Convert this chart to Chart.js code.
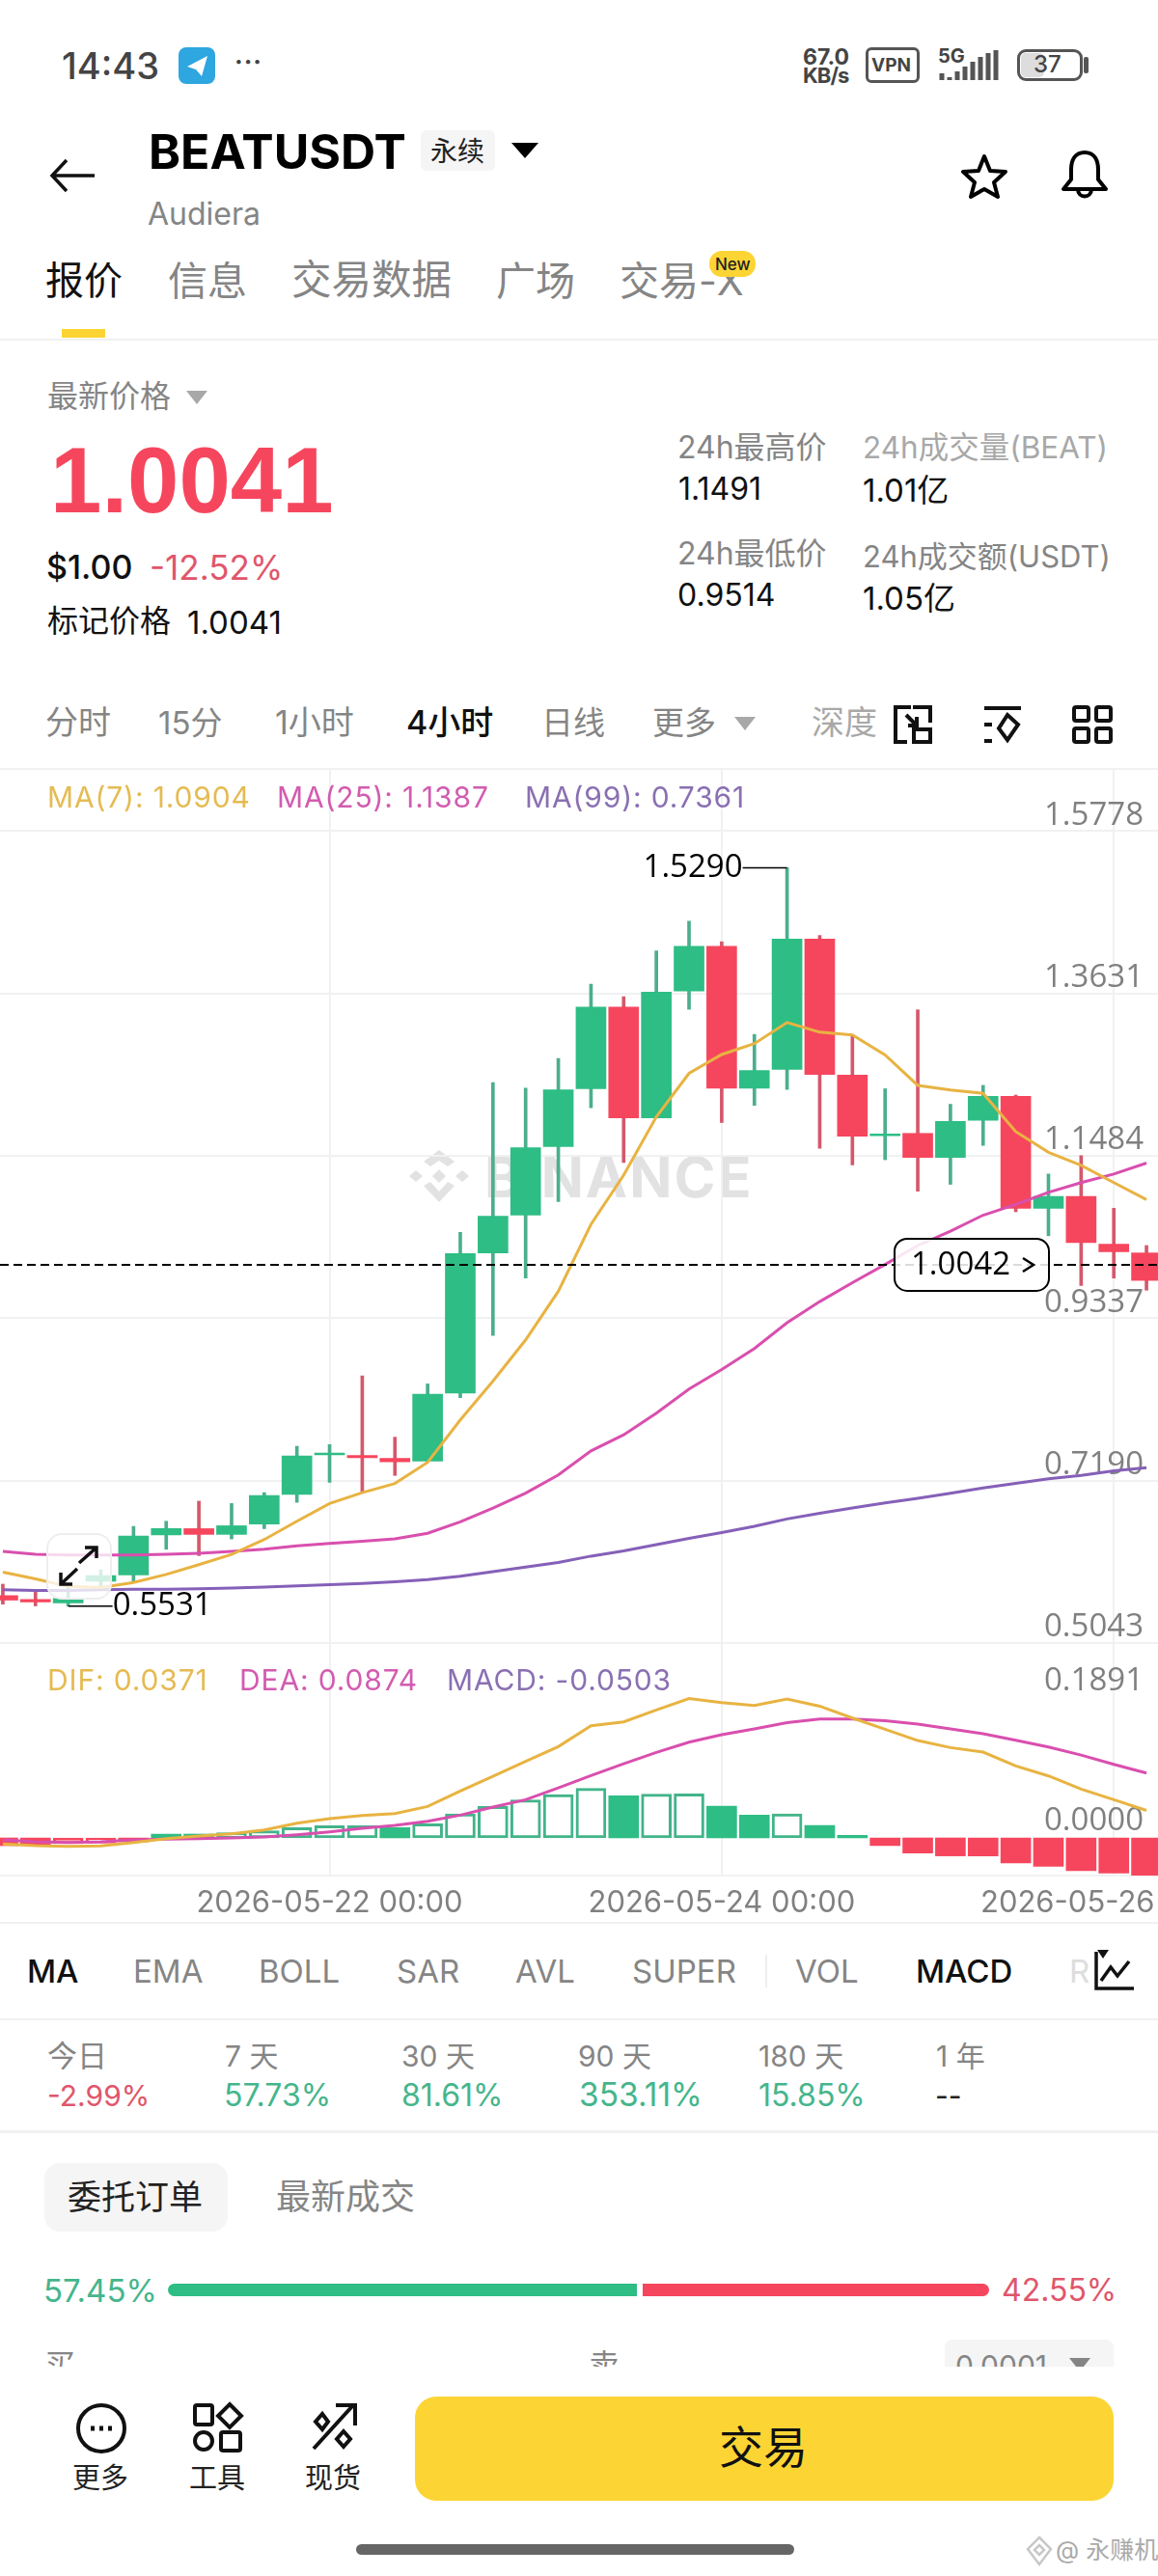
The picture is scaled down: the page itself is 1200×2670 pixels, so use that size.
<!DOCTYPE html>
<html lang="zh">
<head>
<meta charset="utf-8">
<title>BEATUSDT</title>
<script src="https://cdn.jsdelivr.net/npm/chart.js@4/dist/chart.umd.min.js"></script>
<style>
html, body { margin: 0; padding: 0; background: #fff; }
body { font-family: Inter, "Noto Sans CJK SC", sans-serif; }
#page { position: relative; width: 1200px; height: 2670px; overflow: hidden; background: #fff; }
.t { position: absolute; white-space: nowrap; line-height: 1; transform: translateY(-50%); }
.b { position: absolute; }
.sep { position: absolute; left: 0; width: 1200px; height: 2px; background: #f0f1f2; }
.grey { color: #858585; }
.lgrey { color: #a8a8a8; }
.up { color: #45b58c; }
.down { color: #e0566b; }
.lg { font-size: 30px; letter-spacing: .85px; }
canvas { position: absolute; }
svg { position: absolute; overflow: visible; }
</style>
</head>
<body>
<div id="page">

<!-- status bar -->
<div class="t" style="left:64px;top:68px;font-size:38px;font-weight:500;color:#444">14:43</div>
<div class="b" style="left:185px;top:49px;width:38px;height:38px;background:#2ea6e0;border-radius:8px"></div>
<svg style="left:185px;top:49px" width="38" height="38"><path d="M9 20 L30 9 L24 30 L18 23 Z" fill="#fff"/></svg>
<div class="t" style="left:243px;top:64px;font-size:26px;font-weight:700;letter-spacing:1px;color:#444">···</div>
<div class="t" style="left:832px;top:59px;font-size:23px;font-weight:700;color:#444">67.0</div>
<div class="t" style="left:832px;top:78px;font-size:22px;font-weight:700;color:#444;letter-spacing:-1px">KB/s</div>
<div class="b" style="left:897px;top:49px;width:50px;height:31px;border:3px solid #555;border-radius:6px"></div>
<div class="t" style="left:903px;top:67px;font-size:19px;font-weight:700;color:#444">VPN</div>
<div class="t" style="left:972px;top:58px;font-size:20px;font-weight:700;color:#444">5G</div>
<svg style="left:970px;top:50px" width="70" height="36" stroke="#555" stroke-width="5">
  <path d="M6 26V33M14 30V33M22 24V33M30 19V33M38 14V33M46 9V33M54 5V33M62 2V33"/>
</svg>
<div class="b" style="left:1054px;top:51px;width:62px;height:27px;border:3px solid #555;border-radius:9px"></div>
<div class="b" style="left:1058px;top:55px;width:24px;height:25px;background:#ddd;border-radius:5px"></div>
<div class="t" style="left:1071px;top:67px;font-size:24px;font-weight:500;color:#444">37</div>
<div class="b" style="left:1123px;top:59px;width:5px;height:17px;background:#555;border-radius:2px"></div>

<!-- header -->
<svg style="left:52px;top:165px" width="46" height="34" fill="none" stroke="#111" stroke-width="3.5"><path d="M46 17H2M17 1L2 17L17 33"/></svg>
<div class="t" style="left:154px;top:157px;font-size:50px;font-weight:700;color:#000">BEATUSDT</div>
<div class="b" style="left:436px;top:135px;width:77px;height:42px;background:#f5f5f5;border-radius:6px"></div>
<div class="t" style="left:446px;top:157px;font-size:28px;color:#222">永续</div>
<svg style="left:530px;top:148px" width="28" height="16"><path d="M0 0H28L14 16Z" fill="#000"/></svg>
<div class="t grey" style="left:153px;top:222px;font-size:32px">Audiera</div>
<svg style="left:995px;top:159px" width="50" height="48" fill="none" stroke="#000" stroke-width="4" stroke-linejoin="round"><path d="M25 3L31 18L47 19L35 30L39 45L25 37L11 45L15 30L3 19L19 18Z"/></svg>
<svg style="left:1100px;top:156px" width="48" height="52" fill="none" stroke="#000" stroke-width="4" stroke-linejoin="round"><path d="M24 2C14 2 10 10 10 20V30L2 40H46L38 30V20C38 10 34 2 24 2ZM17 40C17 50 31 50 31 40"/></svg>

<!-- tabs -->
<div class="t" style="left:47px;top:291px;font-size:40px;color:#111">报价</div>
<div class="t grey" style="left:174px;top:291px;font-size:41px">信息</div>
<div class="t grey" style="left:302px;top:291px;font-size:41.5px">交易数据</div>
<div class="t grey" style="left:514px;top:291px;font-size:41px">广场</div>
<div class="t grey" style="left:642px;top:291px;font-size:41px">交易-X</div>
<div class="b" style="left:735px;top:260px;width:48px;height:27px;background:#fcd535;border-radius:13px"></div>
<div class="t" style="left:741px;top:274px;font-size:17px;font-weight:500;color:#222">New</div>
<div class="b" style="left:64px;top:341px;width:45px;height:9px;background:#fcd535"></div>
<div class="sep" style="top:351px"></div>

<!-- price block -->
<div class="t grey" style="left:49px;top:411px;font-size:32px">最新价格</div>
<svg style="left:193px;top:405px" width="22" height="14"><path d="M0 0H22L11 14Z" fill="#a8a8a8"/></svg>
<div class="t" style="left:52px;top:498px;font-size:96px;font-weight:700;color:#f6465d;font-family:'Liberation Sans',sans-serif">1.0041</div>
<div class="t" style="left:48px;top:588px;font-size:34px;font-weight:500;color:#111">$1.00</div>
<div class="t down" style="left:155px;top:588px;font-size:35px">-12.52%</div>
<div class="t" style="left:49px;top:644px;font-size:32px;color:#111">标记价格</div>
<div class="t" style="left:194px;top:645px;font-size:33px;color:#111">1.0041</div>

<div class="t grey" style="left:702px;top:464px;font-size:32px">24h最高价</div>
<div class="t lgrey" style="left:894px;top:464px;font-size:31.5px">24h成交量(BEAT)</div>
<div class="t" style="left:703px;top:507px;font-size:32px;color:#111">1.1491</div>
<div class="t" style="left:894px;top:508px;font-size:33px;color:#111">1.01亿</div>
<div class="t grey" style="left:702px;top:574px;font-size:32px">24h最低价</div>
<div class="t grey" style="left:894px;top:576px;font-size:31px">24h成交额(USDT)</div>
<div class="t" style="left:702px;top:617px;font-size:32px;color:#111">0.9514</div>
<div class="t" style="left:894px;top:620px;font-size:33px;color:#111">1.05亿</div>

<!-- timeframe row -->
<div class="t grey" style="left:47px;top:749px;font-size:34px">分时</div>
<div class="t grey" style="left:164px;top:749px;font-size:33px">15分</div>
<div class="t grey" style="left:285px;top:749px;font-size:34px">1小时</div>
<div class="t" style="left:421px;top:749px;font-size:34px;font-weight:500;color:#111">4小时</div>
<div class="t grey" style="left:561px;top:749px;font-size:33px">日线</div>
<div class="t grey" style="left:676px;top:749px;font-size:33px">更多</div>
<svg style="left:761px;top:743px" width="22" height="14"><path d="M0 0H22L11 14Z" fill="#a8a8a8"/></svg>
<div class="t lgrey" style="left:841px;top:749px;font-size:34px">深度</div>
<svg style="left:926px;top:731px" width="40" height="40" fill="none" stroke="#111" stroke-width="4"><path d="M18 2H2V38H14M20 2H38V18M13 10L24 21M24 12V21H15"/><rect x="21" y="25" width="17" height="13"/></svg>
<svg style="left:1018px;top:731px" width="42" height="40" fill="none" stroke="#111" stroke-width="4"><path d="M2 3H40M2 20H10M2 37H10"/><path d="M26 10L37 20L26 36L17 24Z"/></svg>
<svg style="left:1111px;top:731px" width="42" height="40" fill="none" stroke="#111" stroke-width="4"><rect x="2" y="2" width="15" height="14" rx="2"/><rect x="25" y="2" width="15" height="14" rx="2"/><rect x="2" y="24" width="15" height="14" rx="2"/><rect x="25" y="24" width="15" height="14" rx="2"/></svg>
<div class="sep" style="top:796px"></div>

<!-- watermark sits under the transparent canvases -->
<svg style="left:421px;top:1192px" width="68" height="60" fill="#e2e2e2"><path d="M34 0L50 12L43 17L34 11L25 17L18 12ZM10 21L17 27L10 33L3 27ZM58 21L65 27L58 33L51 27ZM34 20L41 27L34 34L27 27ZM18 37L25 33L34 43L43 33L50 37L34 54Z"/></svg>
<div class="t" style="left:502px;top:1220px;font-size:58px;font-weight:700;color:#e2e2e2;letter-spacing:2px">BINANCE</div>

<canvas id="priceChart"></canvas>
<canvas id="macdChart"></canvas>

<!-- chart legends -->
<div class="t lg" style="left:49px;top:826px;color:#e5bb52">MA(7): 1.0904</div>
<div class="t lg" style="left:287px;top:826px;color:#d25cb0">MA(25): 1.1387</div>
<div class="t lg" style="left:544px;top:826px;color:#8a70b2">MA(99): 0.7361</div>
<div class="t lg" style="left:49px;top:1741px;color:#e5bb52">DIF: 0.0371</div>
<div class="t lg" style="left:248px;top:1741px;color:#d25cb0">DEA: 0.0874</div>
<div class="t lg" style="left:463px;top:1741px;color:#8a70b2">MACD: -0.0503</div>

<!-- expand button over the chart -->
<div class="b" style="left:48px;top:1589px;width:64px;height:65px;background:rgba(255,255,255,.78);border:2px solid #eee;border-radius:16px"></div>
<svg style="left:60px;top:1602px" width="42" height="42" fill="none" stroke="#111" stroke-width="3.5"><path d="M22 18L40 2M28 2H40V13M20 24L3 40M3 28V40H15"/></svg>

<div class="sep" style="top:1992px"></div>

<!-- indicator row -->
<div class="t" style="left:28px;top:2043px;font-size:33px;font-weight:500;color:#111">MA</div>
<div class="t grey" style="left:138px;top:2043px;font-size:33px">EMA</div>
<div class="t grey" style="left:268px;top:2043px;font-size:33px">BOLL</div>
<div class="t grey" style="left:411px;top:2043px;font-size:33px">SAR</div>
<div class="t grey" style="left:534px;top:2043px;font-size:33px">AVL</div>
<div class="t grey" style="left:655px;top:2043px;font-size:33px">SUPER</div>
<div class="b" style="left:793px;top:2026px;width:2px;height:34px;background:#eee"></div>
<div class="t grey" style="left:824px;top:2043px;font-size:33px">VOL</div>
<div class="t" style="left:949px;top:2043px;font-size:33px;font-weight:500;color:#111">MACD</div>
<div class="t" style="left:1108px;top:2043px;font-size:33px;color:#ddd">R</div>
<svg style="left:1134px;top:2021px" width="42" height="42" fill="none" stroke="#111" stroke-width="3.5"><path d="M2 2V40H41M7 32L17 18L24 27L36 12"/><path d="M3 0H15L9 9Z" fill="#111" stroke="none"/></svg>
<div class="sep" style="top:2092px"></div>

<!-- period returns -->
<div class="t grey" style="left:49px;top:2130px;font-size:31px">今日</div>
<div class="t grey" style="left:233px;top:2131px;font-size:30px">7 天</div>
<div class="t grey" style="left:416px;top:2131px;font-size:30px">30 天</div>
<div class="t grey" style="left:599px;top:2131px;font-size:30px">90 天</div>
<div class="t grey" style="left:786px;top:2131px;font-size:30px">180 天</div>
<div class="t grey" style="left:970px;top:2131px;font-size:30px">1 年</div>
<div class="t down" style="left:49px;top:2172px;font-size:30px">-2.99%</div>
<div class="t up" style="left:232px;top:2172px;font-size:32px">57.73%</div>
<div class="t up" style="left:416px;top:2172px;font-size:32px">81.61%</div>
<div class="t up" style="left:600px;top:2172px;font-size:33.5px">353.11%</div>
<div class="t up" style="left:786px;top:2172px;font-size:32px">15.85%</div>
<div class="t" style="left:969px;top:2172px;font-size:30px;color:#222">--</div>
<div class="sep" style="top:2208px;height:3px"></div>

<!-- order book stub -->
<div class="b" style="left:46px;top:2242px;width:190px;height:71px;background:#f5f5f5;border-radius:16px"></div>
<div class="t" style="left:70px;top:2277px;font-size:35px;color:#222">委托订单</div>
<div class="t grey" style="left:286px;top:2277px;font-size:36px">最新成交</div>
<div class="t up" style="left:45px;top:2374px;font-size:33px">57.45%</div>
<div class="b" style="left:174px;top:2367px;width:486px;height:13px;background:#2ebd85;border-radius:7px 0 0 7px"></div>
<div class="b" style="left:666px;top:2367px;width:359px;height:13px;background:#f6465d;border-radius:0 7px 7px 0"></div>
<div class="t down" style="left:1038px;top:2374px;font-size:32px">42.55%</div>
<div class="b" style="left:0;top:2420px;width:1200px;height:33px;overflow:hidden">
  <div class="t grey" style="left:46px;top:32px;font-size:32px">买</div>
  <div class="t grey" style="left:610px;top:32px;font-size:32px">卖</div>
  <div class="b" style="left:979px;top:5px;width:175px;height:60px;background:#f5f5f5;border-radius:8px"></div>
  <div class="t grey" style="left:990px;top:32px;font-size:30px">0.0001</div>
  <svg style="left:1108px;top:24px" width="22" height="14"><path d="M0 0H22L11 14Z" fill="#858585"/></svg>
</div>

<!-- bottom bar -->
<svg style="left:78px;top:2490px" width="54" height="54" fill="none" stroke="#111" stroke-width="4"><circle cx="27" cy="27" r="24"/><path d="M16 27h4M25 27h4M34 27h4" stroke-width="5"/></svg>
<svg style="left:200px;top:2490px" width="52" height="54" fill="none" stroke="#111" stroke-width="4"><rect x="2" y="3" width="18" height="20" rx="2"/><path d="M38 2L50 14L38 26L26 14Z"/><circle cx="11" cy="40" r="9"/><rect x="29" y="31" width="20" height="19" rx="2"/></svg>
<svg style="left:322px;top:2490px" width="50" height="54" fill="none" stroke="#111" stroke-width="4"><path d="M3 48L44 3M26 3H46V24"/><path d="M12 12L18 20L12 28L5 20ZM34 30L41 38L34 46L27 38Z"/></svg>
<div class="t" style="left:75px;top:2568px;font-size:29px;color:#222">更多</div>
<div class="t" style="left:196px;top:2568px;font-size:29px;color:#222">工具</div>
<div class="t" style="left:316px;top:2568px;font-size:29px;color:#222">现货</div>
<div class="b" style="left:430px;top:2484px;width:724px;height:108px;background:#fcd535;border-radius:22px"></div>
<div class="t" style="left:745px;top:2536px;font-size:46px;color:#111">交易</div>
<div class="b" style="left:369px;top:2637px;width:454px;height:11px;background:#666;border-radius:6px"></div>
<svg style="left:1062px;top:2628px" width="30" height="32" fill="none" stroke="#c8c8c8" stroke-width="2.5"><path d="M15 2L27 14L15 30L3 14Z"/><path d="M15 10L20 15L15 20L10 15Z"/></svg>
<div class="t" style="left:1094px;top:2643px;font-size:25px;color:#aaa">@ 永赚机</div>

</div>

<script>
// candles, oldest first, 4h each
const times = [
    '2026-05-20 08:00', '2026-05-20 12:00', '2026-05-20 16:00', '2026-05-20 20:00',
    '2026-05-21 00:00', '2026-05-21 04:00', '2026-05-21 08:00', '2026-05-21 12:00', '2026-05-21 16:00', '2026-05-21 20:00',
    '2026-05-22 00:00', '2026-05-22 04:00', '2026-05-22 08:00', '2026-05-22 12:00', '2026-05-22 16:00', '2026-05-22 20:00',
    '2026-05-23 00:00', '2026-05-23 04:00', '2026-05-23 08:00', '2026-05-23 12:00', '2026-05-23 16:00', '2026-05-23 20:00',
    '2026-05-24 00:00', '2026-05-24 04:00', '2026-05-24 08:00', '2026-05-24 12:00', '2026-05-24 16:00', '2026-05-24 20:00',
    '2026-05-25 00:00', '2026-05-25 04:00', '2026-05-25 08:00', '2026-05-25 12:00', '2026-05-25 16:00', '2026-05-25 20:00',
    '2026-05-26 00:00', '2026-05-26 04:00'
];
const xTickLabels = ['2026-05-22 00:00', '2026-05-24 00:00', '2026-05-26 00:00'];

const opens = [0.5670, 0.5618, 0.5572, 0.5859, 0.5943, 0.6472, 0.6555, 0.6479, 0.6615, 0.7008, 0.7530, 0.7523,
    0.7485, 0.7447, 0.8347, 1.0199, 1.0698, 1.1605, 1.2369, 1.3450, 1.1983, 1.3661, 1.4251, 1.2376,
    1.2626, 1.4349, 1.2550, 1.1749, 1.1779, 1.1461, 1.1953, 1.2270, 1.0789, 1.0947, 1.0316, 1.0199];
const closes = [0.5610, 0.5587, 0.5633, 0.5935, 0.6457, 0.6555, 0.6479, 0.6593, 0.6993, 0.7515, 0.7553, 0.7492,
    0.7439, 0.8332, 1.0191, 1.0683, 1.1590, 1.2354, 1.3450, 1.1983, 1.3646, 1.4251, 1.2376, 1.2611,
    1.4349, 1.2558, 1.1741, 1.1772, 1.1461, 1.1938, 1.2270, 1.0789, 1.0947, 1.0335, 1.0214, 0.9836];
const highs = [0.5821, 0.5723, 0.5821, 0.6010, 0.6585, 0.6653, 0.6918, 0.6887, 0.7031, 0.7644, 0.7666, 0.8574,
    0.7764, 0.8468, 1.0471, 1.2452, 1.2376, 1.2769, 1.3752, 1.3586, 1.4191, 1.4584, 1.4312, 1.3087,
    1.5290, 1.4395, 1.3072, 1.2369, 1.3412, 1.2164, 1.2414, 1.2285, 1.1242, 1.1484, 1.0789, 1.0297];
const lows = [0.5557, 0.5534, 0.5531, 0.5799, 0.5859, 0.6283, 0.6199, 0.6419, 0.6555, 0.6903, 0.7167, 0.7024,
    0.7258, 0.7447, 0.8286, 0.9110, 0.9866, 1.0879, 1.2119, 1.1393, 1.1983, 1.3419, 1.1923, 1.2149,
    1.2361, 1.1582, 1.1363, 1.1431, 1.1015, 1.1106, 1.1620, 1.0743, 1.0426, 0.9768, 0.9866, 0.9707];

const ma7 = [0.5980, 0.5890, 0.5791, 0.5776, 0.5844, 0.5950, 0.6079, 0.6215, 0.6411, 0.6653, 0.6888, 0.7031,
    0.7152, 0.7432, 0.7991, 0.8505, 0.9050, 0.9692, 1.0577, 1.1227, 1.1998, 1.2573, 1.2822, 1.2966,
    1.3245, 1.3117, 1.3079, 1.2815, 1.2414, 1.2353, 1.2308, 1.1802, 1.1529, 1.1356, 1.1129, 1.0904];
const ma25 = [0.6253, 0.6215, 0.6207, 0.6207, 0.6207, 0.6215, 0.6230, 0.6253, 0.6283, 0.6328, 0.6359, 0.6389,
    0.6419, 0.6494, 0.6646, 0.6827, 0.7024, 0.7265, 0.7583, 0.7795, 0.8082, 0.8400, 0.8657, 0.8936,
    0.9277, 0.9556, 0.9806, 1.0047, 1.0297, 1.0486, 1.0698, 1.0841, 1.1000, 1.1129, 1.1242, 1.1387];
const ma99 = [0.5746, 0.5738, 0.5738, 0.5746, 0.5753, 0.5753, 0.5761, 0.5769, 0.5784, 0.5799, 0.5814, 0.5829,
    0.5852, 0.5882, 0.5927, 0.5988, 0.6048, 0.6109, 0.6192, 0.6260, 0.6343, 0.6426, 0.6502, 0.6585,
    0.6683, 0.6759, 0.6827, 0.6895, 0.6956, 0.7024, 0.7092, 0.7152, 0.7213, 0.7258, 0.7319, 0.7361];

const dif = [-0.0082, -0.0104, -0.0113, -0.0108, -0.0061, -0.0009, 0.0026, 0.0056, 0.0108, 0.0199, 0.0260, 0.0303,
    0.0329, 0.0424, 0.0632, 0.0831, 0.1031, 0.1230, 0.1511, 0.1563, 0.1723, 0.1879, 0.1823, 0.1784,
    0.1871, 0.1775, 0.1615, 0.1464, 0.1312, 0.1217, 0.1156, 0.0970, 0.0836, 0.0658, 0.0515, 0.0371];
const dea = [-0.0026, -0.0052, -0.0061, -0.0052, -0.0026, -0.0017, -0.0009, 0.0000, 0.0013, 0.0043, 0.0082, 0.0130,
    0.0169, 0.0225, 0.0307, 0.0416, 0.0515, 0.0675, 0.0840, 0.1000, 0.1152, 0.1290, 0.1390, 0.1468,
    0.1554, 0.1602, 0.1602, 0.1580, 0.1533, 0.1468, 0.1403, 0.1316, 0.1225, 0.1117, 0.0992, 0.0874];
const macdHist = [-0.0104, -0.0087, -0.0078, -0.0069, -0.0052, 0.0052, 0.0052, 0.0069, 0.0095, 0.0139, 0.0165, 0.0165,
    0.0139, 0.0191, 0.0325, 0.0424, 0.0511, 0.0585, 0.0667, 0.0567, 0.0589, 0.0593, 0.0429, 0.0307,
    0.0325, 0.0169, 0.0035, -0.0104, -0.0204, -0.0242, -0.0242, -0.0338, -0.0381, -0.0442, -0.0472, -0.0503];
// which histogram bars are drawn as outlines in the picture
const macdHollow = [2, 3, 7, 8, 9, 10, 11, 13, 14, 15, 16, 17, 18, 20, 21, 24];

const priceTicks = [1.5778, 1.3631, 1.1484, 0.9337, 0.7190, 0.5043];
const macdTicks = [0.1891, 0.0000];
const lastPrice = 1.0042;

const GREEN = '#2ebd85';
const RED = '#f6465d';
const GREEN_WICK = '#4cae8c';
const RED_WICK = '#d4586c';
const GRID = '#f0f1f2';
const TICK_GREY = '#808080';
const NUM_FONT = '"Open Sans", Inter, sans-serif';

Chart.defaults.font.family = 'Inter, "Noto Sans CJK SC", sans-serif';
Chart.defaults.animation = false;

const isUp = i => closes[i] >= opens[i];

function lineSet(data, color) {
    return {type: 'line', data: data, borderColor: color, borderWidth: 3, pointRadius: 0, tension: 0, order: 1};
}

function sharedX(extra) {
    return Object.assign({
        grid: {color: GRID, lineWidth: 2, drawTicks: false, offset: false},
        border: {display: false},
        afterBuildTicks(s) {
            s.ticks = s.ticks.filter(t => xTickLabels.includes(times[t.value]));
        }
    }, extra);
}

function sharedY(min, max, list, offset) {
    return {
        position: 'right',
        min: min,
        max: max,
        border: {display: false},
        grid: {display: false},
        ticks: {
            mirror: true,
            padding: -20,
            labelOffset: offset,
            autoSkip: false,
            color: TICK_GREY,
            font: {size: 33, family: NUM_FONT},
            callback: v => v.toFixed(4)
        },
        afterBuildTicks(s) {
            s.ticks = list.map(v => ({value: v}));
        },
        afterFit(s) {
            s.width = 0;
            s.paddingTop = s.paddingBottom = 0;
        }
    };
}

// high / low tags, dashed last price line and its pill
const priceMarks = {
    id: 'priceMarks',
    afterDatasetsDraw(chart) {
        const {ctx, chartArea, scales: {x, y}} = chart;
        const hi = highs.indexOf(Math.max(...highs));
        const lo = lows.indexOf(Math.min(...lows));
        ctx.save();
        ctx.font = '33px ' + NUM_FONT;
        ctx.textBaseline = 'middle';
        ctx.strokeStyle = '#000';
        ctx.fillStyle = '#000';
        ctx.lineWidth = 1.5;

        const hx = x.getPixelForValue(hi), hy = y.getPixelForValue(highs[hi]);
        ctx.beginPath();
        ctx.moveTo(hx, hy);
        ctx.lineTo(hx - 46, hy);
        ctx.stroke();
        ctx.textAlign = 'right';
        ctx.fillText(highs[hi].toFixed(4), hx - 46, hy);

        const lx = x.getPixelForValue(lo), ly = y.getPixelForValue(lows[lo]);
        ctx.beginPath();
        ctx.moveTo(lx, ly);
        ctx.lineTo(lx + 46, ly);
        ctx.stroke();
        ctx.textAlign = 'left';
        ctx.fillText(lows[lo].toFixed(4), lx + 46, ly);

        const py = y.getPixelForValue(lastPrice);
        ctx.setLineDash([9, 5]);
        ctx.lineWidth = 2;
        ctx.beginPath();
        ctx.moveTo(chartArea.left, py);
        ctx.lineTo(chartArea.right, py);
        ctx.stroke();
        ctx.setLineDash([]);

        // pill position is fixed in the app, 160 wide near the right edge
        const left = chartArea.right - 278;
        ctx.beginPath();
        ctx.roundRect(left, py - 27, 160, 54, 13);
        ctx.fillStyle = 'rgba(255,255,255,.86)';
        ctx.fill();
        ctx.lineWidth = 2;
        ctx.stroke();
        ctx.fillStyle = '#000';
        ctx.textAlign = 'left';
        ctx.fillText(lastPrice.toFixed(4), left + 17, py + 1);
        ctx.lineWidth = 2.5;
        ctx.beginPath();
        ctx.moveTo(left + 133, py - 7);
        ctx.lineTo(left + 144, py);
        ctx.lineTo(left + 133, py + 7);
        ctx.stroke();
        ctx.restore();
    }
};

function makeCanvas(id, left, top, width, height) {
    const el = document.getElementById(id);
    el.style.left = left + 'px';
    el.style.top = top + 'px';
    el.width = width;
    el.height = height;
    return el;
}

const priceY = sharedY(0.5043, 1.6596, priceTicks, -16);
priceY.grid = {color: GRID, lineWidth: 2, drawTicks: false};

new Chart(makeCanvas('priceChart', -14, 797, 1219, 908), {
    type: 'bar',
    data: {
        labels: times,
        datasets: [
            lineSet(ma7, '#e8b342'),
            lineSet(ma25, '#d94fae'),
            lineSet(ma99, '#8560b8'),
            {
                data: opens.map((o, i) => [o, closes[i]]),
                backgroundColor: opens.map((o, i) => isUp(i) ? GREEN : RED),
                barThickness: 31,
                grouped: false,
                order: 2
            },
            {
                data: lows.map((l, i) => [l, highs[i]]),
                backgroundColor: lows.map((l, i) => isUp(i) ? GREEN_WICK : RED_WICK),
                barThickness: 3,
                grouped: false,
                order: 3
            }
        ]
    },
    options: {
        responsive: false,
        devicePixelRatio: 1,
        layout: {padding: 0, autoPadding: false},
        plugins: {legend: false, tooltip: false},
        scales: {
            x: sharedX({
                ticks: {display: false, autoSkip: false},
                afterFit(s) {
                    s.height = 2;
                    s.paddingLeft = s.paddingRight = 0;
                }
            }),
            y: priceY
        }
    },
    plugins: [priceMarks]
});

new Chart(makeCanvas('macdChart', -14, 1703, 1219, 290), {
    type: 'bar',
    data: {
        labels: times,
        datasets: [
            lineSet(dif, '#e8b342'),
            lineSet(dea, '#d94fae'),
            {
                data: macdHist,
                backgroundColor: macdHist.map((v, i) => macdHollow.includes(i) ? '#fff' : (v >= 0 ? GREEN : RED)),
                borderColor: macdHist.map(v => v >= 0 ? '#42b48a' : RED),
                borderWidth: macdHist.map((v, i) => macdHollow.includes(i) ? 3 : 0),
                borderSkipped: false,
                barThickness: 31,
                order: 2
            }
        ]
    },
    options: {
        responsive: false,
        devicePixelRatio: 1,
        layout: {padding: 0, autoPadding: false},
        plugins: {legend: false, tooltip: false},
        scales: {
            x: sharedX({
                border: {display: true, color: GRID, width: 2},
                ticks: {autoSkip: false, maxRotation: 0, minRotation: 0, padding: 10, color: TICK_GREY, font: {size: 31}},
                afterFit(s) {
                    s.height = 49;
                    s.paddingLeft = s.paddingRight = 0;
                }
            }),
            y: sharedY(-0.0507, 0.2626, macdTicks, -17)
        }
    }
});
</script>
</body>
</html>
